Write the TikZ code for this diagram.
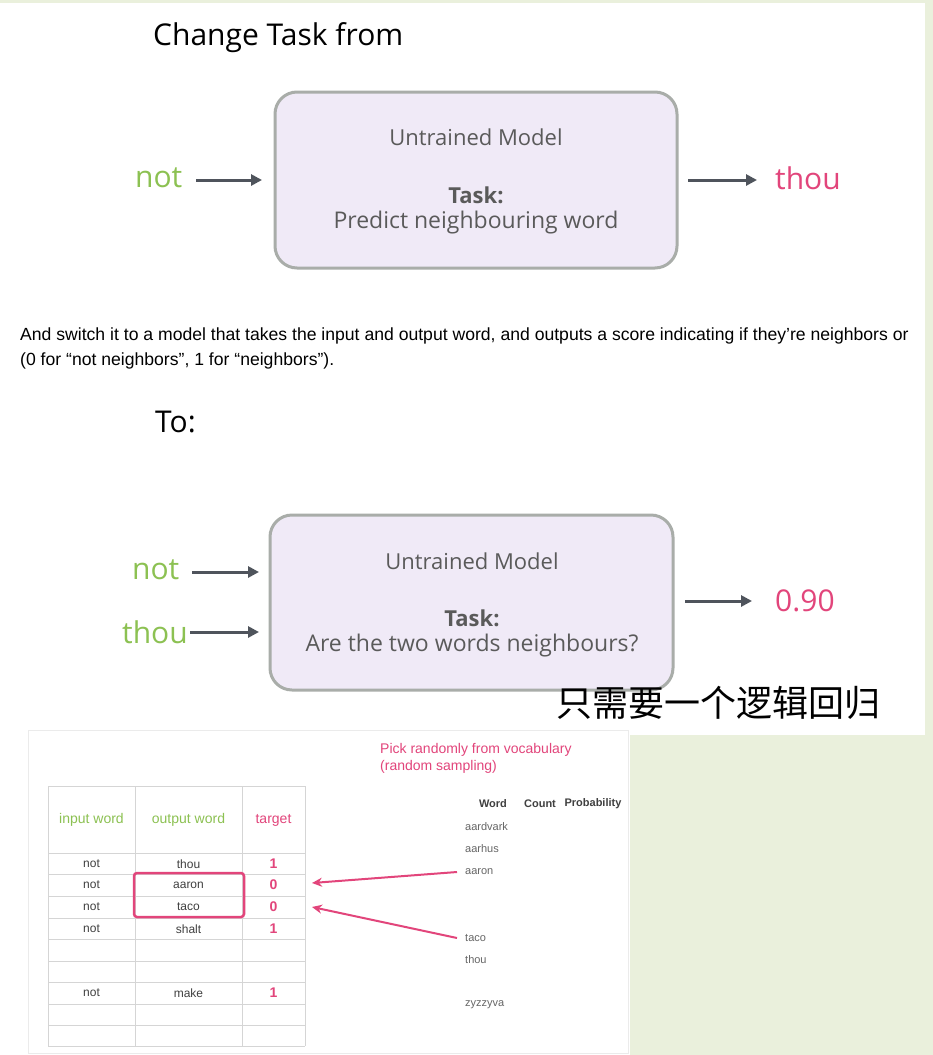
\documentclass[tikz,border=0pt]{standalone}
\usepackage{fontspec}
\setmainfont{Open Sans}
\newfontfamily\arialf{Liberation Sans}
\newfontfamily\cjk{Noto Sans CJK SC}
\usetikzlibrary{arrows.meta}
\definecolor{bggreen}{HTML}{EAF0DC}
\definecolor{lav}{HTML}{F0EAF7}
\definecolor{boxgray}{HTML}{A9ADA9}
\definecolor{txtgray}{HTML}{5A5A5A}
\definecolor{wgreen}{HTML}{8CC152}
\definecolor{wpink}{HTML}{E2457B}
\definecolor{arrgray}{HTML}{4F545C}
\definecolor{grid}{HTML}{D5D5D5}
\tikzset{
  modelbox/.style={draw=boxgray,line width=3pt,fill=lav,rounded corners=22pt},
  bigarrow/.style={draw=arrgray,line width=3pt,-{Triangle[length=11pt,width=11pt]}},
  pinkarrow/.style={draw=wpink,line width=2pt,-{Stealth[length=10pt,width=9pt]}},
  word/.style={font=\fontsize{30}{34}\selectfont,inner sep=0pt},
  boxtxt/.style={font=\fontsize{22}{26}\selectfont,text=txtgray,inner sep=0pt},
  cell/.style={font=\arialf\fontsize{12}{14}\selectfont,text=black!75,inner sep=0pt},
  tgt/.style={font=\arialf\bfseries\fontsize{14}{16}\selectfont,text=wpink,inner sep=0pt},
  voc/.style={font=\arialf\fontsize{11}{13}\selectfont,text=black!60,anchor=west,inner sep=0pt},
  vhead/.style={font=\arialf\bfseries\fontsize{11}{13}\selectfont,text=black!75,inner sep=0pt},
  para/.style={font=\arialf\fontsize{17.6}{20}\selectfont,anchor=west,inner sep=0pt}
}
\begin{document}
\begin{tikzpicture}[x=1pt,y=-1pt]
\fill[bggreen] (0,0) rectangle (933,1055);
\useasboundingbox (0,0) rectangle (933,1055);
\fill[white] (0,3) rectangle (925,735);
\fill[white] (0,735) rectangle (630,1055);
% top part
\node[font=\fontsize{30}{34}\selectfont,anchor=west,inner sep=0pt] (t1) at (153,38) {Change Task from};
\draw[modelbox] (275,92) rectangle (677,268);
\coordinate (m1w) at (262,180); \coordinate (m1e) at (688,180);
\node[boxtxt] (u1) at (476,137) {Untrained Model};
\node[boxtxt,font=\bfseries\fontsize{22}{26}\selectfont] (k1) at (476,195) {Task:};
\node[boxtxt,font=\fontsize{23}{26}\selectfont] (p1) at (476,223) {Predict neighbouring word};
\node[word,text=wgreen,anchor=west] (in1) at (135,178) {not};
\node[word,text=wpink,anchor=west] (out1) at (775,178) {thou};
\draw[bigarrow] (196,180) -- (m1w);
\draw[bigarrow] (m1e) -- (757,180);
\begin{scope}
\clip (0,300) rectangle (925,380);
\node[para] (l1) at (20,336) {And switch it to a model that takes the input and output word, and outputs a score indicating if they’re neighbors or};
\node[para] (l2) at (20,361) {(0 for “not neighbors”, 1 for “neighbors”).};
\end{scope}
\node[font=\fontsize{30}{34}\selectfont,anchor=west,inner sep=0pt] (to) at (155,422) {To:};
% second model
\draw[modelbox] (270,515) rectangle (673,690);
\node[boxtxt] (u2) at (472,561) {Untrained Model};
\node[boxtxt,font=\bfseries\fontsize{22}{26}\selectfont] (k2) at (472,618) {Task:};
\node[boxtxt,font=\fontsize{23}{26}\selectfont] (p2) at (472,646) {Are the two words neighbours?};
\node[word,text=wgreen,anchor=west] (in2) at (132,570) {not};
\node[word,text=wgreen,anchor=west] (in3) at (122,632) {thou};
\node[word,text=wpink,anchor=west] (out2) at (775,601) {0.90};
\draw[bigarrow] (192,572) -- (259,572);
\draw[bigarrow] (190,632) -- (259,632);
\draw[bigarrow] (685,601) -- (752,601);
\node[font=\cjk\fontsize{36}{40}\selectfont,anchor=west,inner sep=0pt] (cn) at (556,703) {只需要一个逻辑回归};
% table panel
\draw[black!8,line width=1pt] (28,730) rectangle (628,1053);
\foreach \y in {786,853,874.5,896,918,939,961,982,1004,1025,1046} \draw[grid,line width=1pt] (48,\y) -- (305,\y);
\foreach \x in {48,135,242,305} \draw[grid,line width=1pt] (\x,786) -- (\x,1046);
\node[cell,text=wgreen,font=\arialf\fontsize{14}{16}\selectfont] (h1) at (91.5,820) {input word};
\node[cell,text=wgreen,font=\arialf\fontsize{14}{16}\selectfont] (h2) at (188.5,820) {output word};
\node[cell,text=wpink,font=\arialf\fontsize{14}{16}\selectfont] (h3) at (273.5,820) {target};
\foreach \y/\w/\t in {864/thou/1,885/aaron/0,907/taco/0,929/shalt/1,993/make/1}{
  \node[cell] at (91.5,\y) {not};
  \node[cell] at (188.5,\y) {\w};
  \node[tgt] at (273.5,\y) {\t};
}
\draw[wpink,line width=2.5pt,rounded corners=3pt] (134,873) rectangle (244,917);
\node[font=\arialf\fontsize{14}{17}\selectfont,text=wpink,anchor=west,inner sep=0pt,align=left] (pick) at (380,758) {Pick randomly from vocabulary\\(random sampling)};
\node[vhead] (vw) at (493,804) {Word};
\node[vhead] (vc) at (540,804) {Count};
\node[vhead] (vp) at (593,804) {Probability};
\node[voc] (a1) at (465,827) {aardvark};
\node[voc] (a2) at (465,849) {aarhus};
\node[voc] (a3) at (465,872) {aaron};
\node[voc] (a4) at (465,938) {taco};
\node[voc] (a5) at (465,960) {thou};
\node[voc] (a6) at (465,1005) {zyzzyva};
\coordinate (t0) at (312,883); \coordinate (t1c) at (312,907);
\draw[pinkarrow] ([xshift=-8pt]a3.west) -- (t0);
\draw[pinkarrow] ([xshift=-8pt]a4.west) -- (t1c);
\end{tikzpicture}
\end{document}
